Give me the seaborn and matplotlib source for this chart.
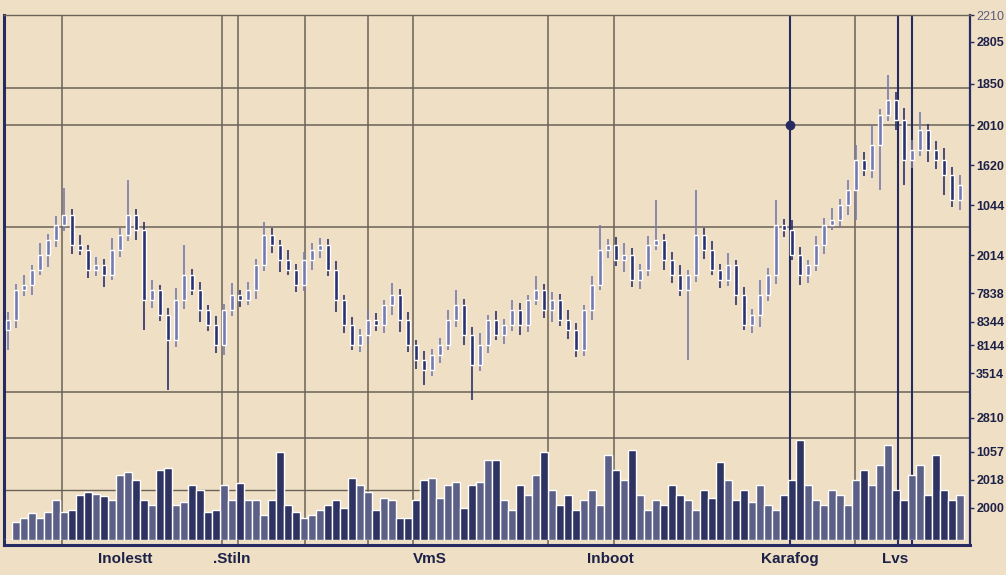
import numpy as np
import pandas as pd
import seaborn as sns
import matplotlib.pyplot as plt

# candle closes (price units), one per session
closes = [225, 255, 260, 275, 290, 305, 320, 330, 300, 295,
          275, 280, 270, 295, 310, 330, 315, 245, 255, 230,
          205, 245, 270, 255, 235, 220, 200, 235, 250, 245,
          255, 280, 310, 300, 285, 275, 260, 285, 295, 300,
          275, 245, 220, 200, 210, 225, 220, 240, 250, 225,
          200, 185, 175, 190, 200, 225, 240, 210, 180, 200,
          225, 210, 220, 235, 220, 245, 255, 235, 245, 225,
          215, 195, 235, 260, 295, 300, 285, 290, 265, 275,
          300, 305, 285, 270, 255, 270, 310, 295, 275, 265,
          280, 250, 220, 230, 250, 270, 320, 315, 290, 270,
          280, 300, 320, 325, 340, 355, 385, 375, 400, 430,
          445, 425, 385, 395, 415, 395, 385, 370, 345, 360]
first_open = 215

upper_wick = [8, 6, 10, 5, 12, 6, 9, 27, 6, 10,
              5, 8, 6, 12, 7, 35, 6, 8, 10, 5,
              7, 12, 30, 6, 8, 5, 9, 6, 12, 5,
              8, 6, 13, 7, 5, 10, 6, 8, 7, 7,
              6, 9, 5, 8, 6, 10, 7, 5, 12, 6,
              8, 5, 9, 6, 7, 10, 15, 6, 8, 12,
              5, 9, 6, 10, 7, 5, 14, 6, 8, 6,
              10, 7, 5, 9, 25, 6, 8, 12, 7, 6,
              9, 40, 6, 8, 10, 5, 45, 7, 9, 6,
              12, 5, 8, 6, 15, 7, 25, 6, 10, 8,
              5, 9, 7, 12, 6, 10, 15, 8, 20, 6,
              25, 8, 12, 10, 18, 6, 9, 12, 8, 10]

lower_wick = [20, 8, 6, 10, 5, 12, 7, 6, 9, 5,
              8, 6, 12, 5, 7, 6, 10, 30, 8, 6,
              50, 7, 9, 5, 12, 6, 8, 10, 6, 7,
              5, 9, 6, 8, 12, 5, 7, 6, 10, 8,
              6, 12, 8, 5, 7, 9, 6, 8, 10, 12,
              7, 9, 15, 6, 8, 5, 7, 10, 35, 6,
              8, 5, 9, 6, 10, 7, 5, 8, 12, 6,
              9, 7, 6, 10, 5, 8, 6, 12, 7, 9,
              6, 5, 10, 8, 6, 70, 7, 9, 5, 8,
              6, 10, 5, 8, 12, 6, 9, 7, 5, 10,
              8, 6, 9, 5, 7, 10, 30, 6, 8, 45,
              6, 10, 25, 8, 6, 12, 9, 20, 7, 10]

volumes = [0, 18, 22, 27, 22, 28, 40, 28, 30, 45,
           48, 46, 44, 40, 65, 68, 60, 40, 35, 70,
           72, 35, 38, 55, 50, 28, 30, 55, 40, 57,
           40, 40, 25, 40, 88, 35, 28, 22, 25, 30,
           35, 40, 32, 62, 55, 48, 30, 42, 40, 22,
           22, 40, 60, 62, 42, 55, 58, 32, 55, 58,
           80, 80, 40, 30, 55, 45, 65, 88, 50, 35,
           45, 30, 40, 50, 35, 85, 70, 60, 90, 45,
           30, 40, 35, 55, 45, 40, 30, 50, 42, 78,
           60, 40, 50, 38, 55, 35, 30, 45, 60, 100,
           55, 40, 35, 50, 45, 35, 60, 70, 55, 75,
           95, 50, 40, 65, 75, 45, 85, 50, 40, 45]

x_labels = ["Inolestt", ".Stiln", "VmS", "Inboot", "Karafog", "Lvs"]
x_label_pos = [14.6, 28.0, 52.75, 75.25, 97.75, 110.9]

right_labels = ["2210", "2805", "1850", "2010", "1620", "1044", "2014", "7838",
                "8344", "8144", "3514", "2810", "1057", "2018", "2000"]
right_label_pos = [530, 503, 461, 420, 380, 340, 290, 252, 223, 200, 172, 127, 93, 65, 37]

# grid lines
h_grid = [457, 420, 318, 153, 107]
v_grid_grey = [6.75, 26.75, 28.75, 37.1, 45.0, 50.6, 67.5, 75.75, 105.9]
v_grid_navy = [97.75, 111.25, 113.0]

bg = "#efdfc5"
navy = "#272b63"
grey_line = "#6a6358"
font = ["Liberation Sans", "DejaVu Sans"]

sns.set_theme(style="ticks", rc={"axes.facecolor": bg, "figure.facecolor": bg})
plt.rcParams["font.family"] = font

idx = np.arange(len(closes))
opens = [first_open] + closes[:-1]
df = pd.DataFrame({"idx": idx, "open": opens, "close": closes,
                   "up_w": upper_wick, "low_w": lower_wick, "volume": volumes})
df["top"] = df[["open", "close"]].max(axis=1)
df["bot"] = df[["open", "close"]].min(axis=1)
df["high"] = df["top"] + df["up_w"]
df["low"] = df["bot"] - df["low_w"]
df["trend"] = np.where(df["close"] >= df["open"], "up", "down")

fig = plt.figure(figsize=(10.06, 5.75), dpi=100)
left = 4 / 1006
width = 966 / 1006
ax = fig.add_axes([left, 30 / 575, width, 530 / 575])
ax.set_xlim(-0.5, 120.25)
ax.set_ylim(0, 530)

for y in h_grid:
    ax.axhline(y, color=grey_line, lw=1.1, zorder=1)
ax.axhline(55, xmin=0, xmax=0.43, color=grey_line, lw=1.0, zorder=1)
for x in v_grid_grey:
    ax.axvline(x, color=grey_line, lw=1.1, zorder=1)
for x in v_grid_navy:
    ax.axvline(x, color=navy, lw=1.5, zorder=1)

# candles
colors = df["trend"].map({"up": "#7679b0", "down": "#2c306e"})
ax.vlines(df["idx"], df["low"], df["high"], color=colors, lw=1.2, zorder=3)
body = (df["top"] - df["bot"]).clip(lower=2)
ax.bar(df["idx"], body, bottom=df["bot"], width=0.62, color=colors, zorder=4)
ax.plot(v_grid_navy[0], h_grid[1], "o", color=navy, ms=6, zorder=5)

# spines / ticks
for side in ["left", "bottom"]:
    ax.spines[side].set_color(navy)
    ax.spines[side].set_linewidth(2.2)
ax.spines["right"].set_color(navy)
ax.spines["right"].set_linewidth(1.6)
ax.spines["top"].set_color(grey_line)
ax.spines["top"].set_linewidth(1.0)

ax.set_xticks(x_label_pos, x_labels)
ax.tick_params(axis="x", length=0, pad=5, labelsize=11, labelcolor="#1d2148")
for t in ax.get_xticklabels():
    t.set_fontweight("bold")

ax.yaxis.tick_right()
ax.set_yticks(right_label_pos, right_labels)
ax.tick_params(axis="y", length=3, width=1, color=navy, pad=1.5,
               labelsize=9, labelcolor="#1d2148")
for i, t in enumerate(ax.get_yticklabels()):
    t.set_fontweight("bold")
    if i == 0:
        t.set_fontweight("normal")
        t.set_color("#5a5d7d")

# volume panel overlaid on the bottom of the chart
ax_vol = fig.add_axes([left, 35 / 575, width, 100 / 575])
ax_vol.patch.set_alpha(0)
sns.barplot(data=df, x="idx", y="volume", hue="trend", native_scale=True,
            dodge=False, width=0.95, saturation=1, legend=False,
            palette={"up": "#5c5f86", "down": "#2f3362"}, ax=ax_vol, zorder=2)
ax_vol.set_xlim(-0.5, 120.25)
ax_vol.set_ylim(0, 100)
ax_vol.axis("off")

fig.savefig("out.png", dpi=100)
